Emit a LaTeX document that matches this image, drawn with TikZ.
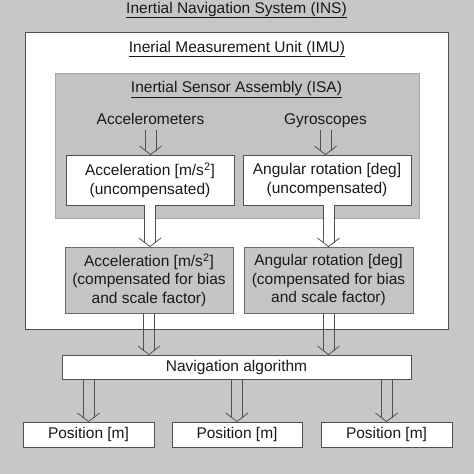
\documentclass[tikz,border=0pt]{standalone}
\usepackage{fontspec}
\setmainfont{Liberation Sans}
\usetikzlibrary{decorations.markings}
\definecolor{bggray}{RGB}{199,199,199}
\definecolor{isagray}{RGB}{195,195,195}
\definecolor{compgray}{RGB}{197,197,197}
\definecolor{linecol}{RGB}{80,80,80}
\definecolor{txtcol}{RGB}{25,25,25}
\begin{document}
\begin{tikzpicture}[x=1pt,y=-1pt,
  every node/.style={text=txtcol, font=\fontsize{15.5}{18.5}\selectfont},
  boxwhite/.style={draw=linecol, line width=0.9pt, fill=white, inner sep=0pt, align=center},
  boxgray/.style={draw=linecol!85, line width=0.9pt, fill=compgray, inner sep=0pt, align=center},
  dblarrow/.style={draw=none,
    postaction={draw=linecol, line width=0.8pt, shorten >=4pt, transform canvas={xshift=-5.5pt}},
    postaction={draw=linecol, line width=0.8pt, shorten >=4pt, transform canvas={xshift=5.5pt}},
    postaction={decorate, decoration={markings, mark=at position 1 with {\draw[linecol, line width=0.8pt] (-8.5pt,11pt) -- (0pt,0pt) -- (-8.5pt,-11pt);}}}},
  dblarrowwhite/.style={dblarrow, preaction={draw=white, line width=10pt, shorten >=5pt}}
]
\useasboundingbox (0,0) rectangle (474,474);
\fill[bggray] (0,0) rectangle (474,474);

\node[anchor=base] (institle) at (236.5,13) {\underline{Inertial Navigation System (INS)}};

\node[draw=linecol, line width=0.9pt, fill=white, minimum width=423pt, minimum height=297pt, inner sep=0pt] (imu) at (236.5,180.5) {};
\node[anchor=base] (imutitle) at (237,52) {\underline{Inerial Measurement Unit (IMU)}};

\node[draw=isagray!85!black, line width=0.5pt, fill=isagray, minimum width=364pt, minimum height=145pt, inner sep=0pt] (isa) at (237,145.5) {};
\node[anchor=base] (isatitle) at (236.5,92.5) {\underline{Inertial Sensor Assembly (ISA)}};

\node[anchor=base, inner sep=6pt] (acclabel) at (150.5,124) {Accelerometers};
\node[anchor=base, inner sep=6pt] (gyrlabel) at (325.5,124) {Gyroscopes};

\node[boxwhite, minimum width=168pt, minimum height=50pt] (accU) at (150,180) {Acceleration [m/s\textsuperscript{2}]\\(uncompensated)};
\node[boxwhite, minimum width=168pt, minimum height=50pt] (gyrU) at (327,180) {Angular rotation [deg]\\(uncompensated)};

\node[boxgray, minimum width=168pt, minimum height=66pt] (accC) at (149,280) {Acceleration [m/s\textsuperscript{2}]\\(compensated for bias\\and scale factor)};
\node[boxgray, minimum width=169pt, minimum height=66pt] (gyrC) at (328.5,280) {Angular rotation [deg]\\(compensated for bias\\and scale factor)};

\node[boxwhite, minimum width=349pt, minimum height=24pt] (nav) at (236.5,367) {Navigation algorithm};

\node[boxwhite, minimum width=131pt, minimum height=25pt] (pos1) at (88.5,434.5) {Position [m]};
\node[boxwhite, minimum width=130pt, minimum height=25pt] (pos2) at (237,434.5) {Position [m]};
\node[boxwhite, minimum width=131pt, minimum height=25pt] (pos3) at (386.5,434.5) {Position [m]};

\draw[dblarrow] (acclabel.south) -- (acclabel.south |- accU.north);
\draw[dblarrow] (gyrlabel.south |- acclabel.south) -- (gyrlabel.south |- gyrU.north);
\draw[dblarrowwhite] (accU.south) -- (accU.south |- accC.north);
\draw[dblarrowwhite] (gyrC.north |- gyrU.south) -- (gyrC.north);
\draw[dblarrow] (accC.south) -- (accC.south |- nav.north);
\draw[dblarrow] (gyrC.south) -- (gyrC.south |- nav.north);
\draw[dblarrow] (pos1.north |- nav.south) -- (pos1.north);
\draw[dblarrow] (pos2.north |- nav.south) -- (pos2.north);
\draw[dblarrow] (pos3.north |- nav.south) -- (pos3.north);
\end{tikzpicture}
\end{document}
